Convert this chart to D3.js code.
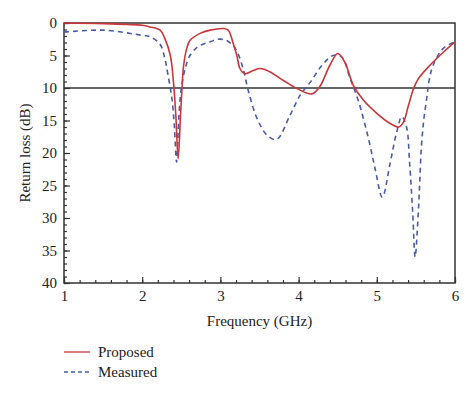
<!DOCTYPE html>
<html>
<head>
<meta charset="utf-8">
<script src="https://cdn.jsdelivr.net/npm/d3@7"></script>
<style>
    body { margin: 0; background: #fff; }
    text { font-family: "Liberation Serif", "DejaVu Serif", serif; fill: #222; }
</style>
</head>
<body>
<script>
/* ========= Data ========= */
// Proposed (simulated) return loss
var proposedFreq = [1.0, 1.5, 2.0, 2.1, 2.23, 2.29, 2.36, 2.40, 2.43, 2.46, 2.49, 2.51, 2.53, 2.57, 2.61, 2.74, 2.87, 3.04, 3.10, 3.17, 3.21, 3.25, 3.31, 3.42, 3.51, 3.63, 3.80, 3.98, 4.17, 4.27, 4.40, 4.50, 4.59, 4.70, 4.83, 5.00, 5.15, 5.28, 5.34, 5.40, 5.47, 5.53, 5.68, 5.85, 6.0];
var proposedLoss = [0, 0.1, 0.35, 0.6, 1.1, 2.4, 5.0, 9.1, 14.2, 20.9, 14.2, 9.8, 6.5, 3.9, 2.7, 1.6, 1.1, 0.85, 1.1, 3.4, 5.0, 7.0, 7.8, 7.3, 7.0, 7.5, 8.8, 10.1, 10.9, 9.8, 6.5, 4.7, 6.0, 9.6, 11.9, 13.9, 15.3, 16.0, 15.3, 12.9, 10.1, 8.6, 6.5, 4.5, 2.9];
// Measured return loss
var measuredFreq = [1.0, 1.5, 2.0, 2.1, 2.23, 2.29, 2.33, 2.38, 2.41, 2.44, 2.47, 2.50, 2.55, 2.61, 2.72, 2.87, 2.97, 3.08, 3.19, 3.29, 3.36, 3.48, 3.60, 3.72, 3.89, 4.02, 4.15, 4.30, 4.44, 4.55, 4.66, 4.76, 4.89, 4.98, 5.07, 5.17, 5.25, 5.32, 5.38, 5.42, 5.46, 5.49, 5.53, 5.55, 5.57, 5.60, 5.64, 5.67, 5.72, 5.85, 6.0];
var measuredLoss = [1.4, 1.1, 1.9, 2.1, 3.3, 5.5, 8.0, 11.6, 15.7, 21.4, 14.2, 10.1, 7.0, 5.0, 3.6, 2.9, 2.5, 2.7, 3.9, 7.0, 10.6, 15.0, 17.3, 17.9, 14.2, 11.1, 9.1, 6.5, 5.0, 5.2, 8.6, 11.8, 17.6, 22.5, 26.8, 21.6, 17.0, 14.4, 16.0, 21.6, 29.3, 36.0, 29.3, 24.2, 19.1, 15.0, 11.4, 8.8, 6.5, 3.9, 2.9];
var xTicks = [1, 2, 3, 4, 5, 6];
var yTicks = [0, 5, 10, 15, 20, 25, 30, 35, 40];
var refLevel = 10;
var seriesNames = ["Proposed", "Measured"];

/* ========= Constants ========= */
var w = 474;
var h = 399;
var plotLeft = 64, plotRight = 455, plotTop = 23, plotBottom = 283;
var redColor = "#c9373b";
var blueColor = "#4a5ca8";
var axisColor = "#333";

var svg = d3.select("body")
    .append("svg")
    .attr("width", w)
    .attr("height", h);

/* ========= Scales ========= */
var xScale = d3.scaleLinear()
    .domain([1, 6])
    .range([plotLeft, plotRight]);
var yScale = d3.scaleLinear()
    .domain([0, 40])
    .range([plotTop, plotBottom]);

/* ========= Axes (inward ticks) ========= */
// minor ticks
svg.append("g")
    .attr("transform", "translate(0," + plotBottom + ")")
    .call(d3.axisBottom(xScale).tickValues(d3.range(1, 6.001, 0.2)).tickSize(-3).tickFormat(""))
    .call(function (g) { g.select(".domain").remove(); });
svg.append("g")
    .attr("transform", "translate(" + plotLeft + ",0)")
    .call(d3.axisLeft(yScale).tickValues(d3.range(0, 41, 1)).tickSize(-3).tickFormat(""))
    .call(function (g) { g.select(".domain").remove(); });
// major ticks with labels
var xAxis = svg.append("g")
    .attr("transform", "translate(0," + plotBottom + ")")
    .call(d3.axisBottom(xScale).tickValues(xTicks).tickSize(-6).tickPadding(7).tickFormat(d3.format("d")));
var yAxis = svg.append("g")
    .attr("transform", "translate(" + plotLeft + ",0)")
    .call(d3.axisLeft(yScale).tickValues(yTicks).tickSize(-6).tickPadding(7).tickFormat(d3.format("d")));
[xAxis, yAxis].forEach(function (g) {
    g.selectAll("text").attr("font-size", "15px").attr("fill", "#222")
        .attr("font-family", "Liberation Serif, DejaVu Serif, serif");
    g.select(".domain").remove();
});
svg.selectAll("g line").attr("stroke", axisColor).attr("stroke-width", 1.2);

// frame
svg.append("rect")
    .attr("x", plotLeft)
    .attr("y", plotTop)
    .attr("width", plotRight - plotLeft)
    .attr("height", plotBottom - plotTop)
    .attr("fill", "none")
    .attr("stroke", axisColor)
    .attr("stroke-width", 1.5);

// 10 dB reference line
svg.append("line")
    .attr("x1", plotLeft)
    .attr("x2", plotRight)
    .attr("y1", yScale(refLevel))
    .attr("y2", yScale(refLevel))
    .attr("stroke", axisColor)
    .attr("stroke-width", 1.5);

/* ========= Lines ========= */
function drawLine(freq, loss, color, dash) {
    var pts = freq.map(function (f, i) { return [f, loss[i]]; });
    var line = d3.line()
        .x(function (d) { return xScale(d[0]); })
        .y(function (d) { return yScale(d[1]); })
        .curve(d3.curveCatmullRom.alpha(0.5));
    svg.append("path")
        .datum(pts)
        .attr("fill", "none")
        .attr("stroke", color)
        .attr("stroke-width", 1.6)
        .attr("stroke-dasharray", dash)
        .attr("stroke-linejoin", "round")
        .attr("d", line);
}
drawLine(measuredFreq, measuredLoss, blueColor, "5,4");
drawLine(proposedFreq, proposedLoss, redColor, null);

/* ========= Labels ========= */
svg.append("text")
    .attr("x", (plotLeft + plotRight) / 2)
    .attr("y", 326)
    .attr("text-anchor", "middle")
    .attr("font-size", "15px")
    .text("Frequency (GHz)");
svg.append("text")
    .attr("transform", "translate(30," + ((plotTop + plotBottom) / 2) + ") rotate(-90)")
    .attr("text-anchor", "middle")
    .attr("font-size", "15px")
    .text("Return loss (dB)");

/* ========= Legend ========= */
var legendColors = [redColor, blueColor];
var legendDash = [null, "4,3"];
seriesNames.forEach(function (name, i) {
    var y = 352 + i * 20;
    svg.append("line")
        .attr("x1", 64)
        .attr("x2", 90)
        .attr("y1", y)
        .attr("y2", y)
        .attr("stroke", legendColors[i])
        .attr("stroke-width", 1.3)
        .attr("stroke-dasharray", legendDash[i]);
    svg.append("text")
        .attr("x", 98)
        .attr("y", y + 5)
        .attr("font-size", "15px")
        .text(name);
});
</script>
</body>
</html>
